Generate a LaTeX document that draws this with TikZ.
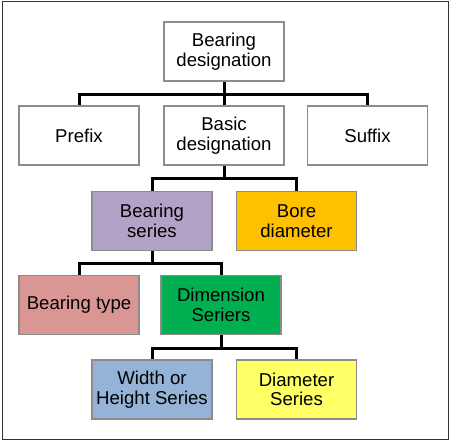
\documentclass[tikz,border=0pt]{standalone}
\usepackage{fontspec}
\setmainfont{Liberation Sans}
\definecolor{purp}{HTML}{B3A2C7}
\definecolor{orng}{HTML}{FFC000}
\definecolor{pink}{HTML}{D99694}
\definecolor{grn}{HTML}{00B050}
\definecolor{blu}{HTML}{95B3D7}
\definecolor{yel}{HTML}{FFFF66}
\definecolor{bordergray}{HTML}{8C8C8C}
\begin{document}
\begin{tikzpicture}[x=1pt,y=-1pt,
  box/.style={draw=bordergray, line width=1.5pt, minimum width=120pt, minimum height=59pt,
    inner sep=0pt, align=center, font=\fontsize{18.6}{19.5}\selectfont},
  conn/.style={line width=3pt, black}]
\useasboundingbox (0,0) rectangle (450,442);
\node[draw=black!80, line width=1pt, minimum width=446.5pt, minimum height=438pt, inner sep=0pt] (frame) at (225.5,220.5) {};
\node[box] (bd) at (224,51.5) {Bearing\\designation};
\node[box] (pre) at (79,135.5) {Prefix};
\node[box] (bas) at (224,135.5) {Basic\\designation};
\node[box] (suf) at (367.5,135.5) {Suffix};
\node[box, fill=purp] (bs) at (152,221) {Bearing\\series};
\node[box, fill=orng] (bore) at (296.5,221) {Bore\\diameter};
\node[box, fill=pink] (bt) at (79,305) {Bearing type};
\node[box, fill=grn] (ds) at (221,305) {Dimension\\Seriers};
\node[box, fill=blu] (wh) at (152,389.5) {Width or\\Height Series};
\node[box, fill=yel] (dia) at (296.5,389.5) {Diameter\\Series};
\coordinate (j1) at (224,94);
\coordinate (j2) at (224,178);
\coordinate (j3) at (152,263);
\coordinate (j4) at (221,348);
\draw[conn] (bd.south) -- (j1);
\draw[conn] (pre.north) |- (j1) -| (suf.north);
\draw[conn] (j1) -- (bas.north);
\draw[conn] (bas.south) -- (j2);
\draw[conn] (bs.north) |- (j2) -| (bore.north);
\draw[conn] (bs.south) -- (j3);
\draw[conn] (bt.north) |- (j3) -| (ds.north);
\draw[conn] (ds.south) -- (j4);
\draw[conn] (wh.north) |- (j4) -| (dia.north);
\end{tikzpicture}
\end{document}
